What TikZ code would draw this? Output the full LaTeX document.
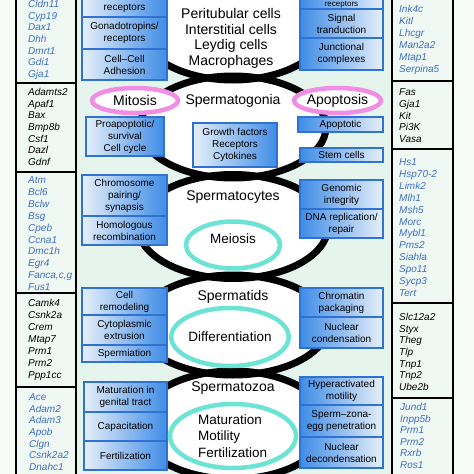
\documentclass[tikz,border=0pt]{standalone}
\usepackage{fontspec}
\setmainfont{Liberation Sans}
\definecolor{bg}{HTML}{E6F4EE}
\definecolor{outerbg}{HTML}{F6FBF8}
\definecolor{genefill}{HTML}{F0F8F4}
\definecolor{geneblue}{HTML}{3E6FC6}
\definecolor{boxline}{HTML}{2F72D4}
\definecolor{boxdark}{HTML}{3F8CE6}
\definecolor{boxmid}{HTML}{C3DAF5}
\definecolor{boxlight}{HTML}{E6EFFA}
\definecolor{pinkring}{HTML}{F08EE6}
\definecolor{tealring}{HTML}{6DE3D5}
\usetikzlibrary{shapes.geometric}
\tikzset{
  stagefill/.style={fill=white},
  stageline/.style={draw=black, line width=7pt},
  genecol/.style={draw=black, line width=1.4pt, fill=genefill},
  genesep/.style={draw=black, line width=1.4pt},
  geneb/.style={anchor=base west, inner sep=0pt, text=geneblue, font=\fontsize{10}{12}\selectfont\itshape},
  genek/.style={anchor=base west, inner sep=0pt, text=black, font=\fontsize{10}{12}\selectfont\itshape},
  boxbase/.style={draw=boxline, line width=1.3pt, rectangle, inner sep=0pt, align=center, font=\fontsize{10}{12}\selectfont},
  lbox/.style={boxbase, left color=boxlight, middle color=boxmid, right color=boxdark},
  rbox/.style={boxbase, left color=boxdark, middle color=boxmid, right color=boxlight},
  mbox/.style={boxbase, left color=boxlight, middle color=boxmid, right color=boxdark},
  boxtext/.style={inner sep=0pt, align=center, font=\fontsize{10}{12}\selectfont},
  stagelabel/.style={inner sep=0pt, font=\fontsize{14}{16}\selectfont},
  pinkell/.style={ellipse, draw=pinkring, line width=4.5pt, fill=white, inner sep=0pt, font=\fontsize{14}{16}\selectfont},
  tealell/.style={ellipse, draw=tealring, line width=4.5pt, fill=white, inner sep=0pt, align=left, font=\fontsize{13.5}{16.5}\selectfont},
  ringtext/.style={inner sep=0pt, align=left, font=\fontsize{13.5}{16.5}\selectfont},
}
\begin{document}
\begin{tikzpicture}[x=1pt,y=-1pt]
\useasboundingbox (0,0) rectangle (474,474);
\clip (0,0) rectangle (474,474);
\fill[outerbg] (0,0) rectangle (474,474);
\fill[bg] (16,0) rectangle (453,474);

% central chain of stages
\path[stagefill] (233,25) ellipse [x radius=95pt, y radius=55pt];
\path[stagefill] (233,127) ellipse [x radius=93pt, y radius=51pt];
\path[stagefill] (233,226.5) ellipse [x radius=95pt, y radius=52pt];
\path[stagefill] (233,325) ellipse [x radius=95pt, y radius=50pt];
\path[stagefill] (233,425) ellipse [x radius=95pt, y radius=54pt];
\draw[stageline] (233,25) ellipse [x radius=95pt, y radius=55pt];
\draw[stageline] (233,127) ellipse [x radius=93pt, y radius=51pt];
\draw[stageline] (233,226.5) ellipse [x radius=95pt, y radius=52pt];
\draw[stageline] (233,325) ellipse [x radius=95pt, y radius=50pt];
\draw[stageline] (233,425) ellipse [x radius=95pt, y radius=54pt];

% gene columns
\path[genecol] (16,-10) rectangle (76,484);
\path[genecol] (392,-10) rectangle (453,484);
\foreach \yy in {83,172,293,387} \draw[genesep] (16,\yy) -- (76,\yy);
\foreach \yy in {81,149,303,398} \draw[genesep] (392,\yy) -- (453,\yy);

% left genes
\foreach \g [count=\i from 0] in {Cldn11,Cyp19,Dax1,Dhh,Dmrt1,Gdi1,Gja1}
  \node[geneb] (la\i) at (28,7.5+\i*11.67) {\g};
\foreach \g [count=\i from 0] in {Adamts2,Apaf1,Bax,Bmp8b,Csf1,Dazl,Gdnf}
  \node[genek] (lb\i) at (28,95.5+\i*11.67) {\g};
\foreach \g [count=\i from 0] in {Atm,Bcl6,Bclw,Bsg,Cpeb,Ccna1,Dmc1h,Egr4,{Fanca,c,g},Fus1}
  \node[geneb] (lc\i) at (28,183.5+\i*11.9) {\g};
\foreach \g [count=\i from 0] in {Camk4,Csnk2a,Crem,Mtap7,Prm1,Prm2,Ppp1cc}
  \node[genek] (ld\i) at (28,306.5+\i*12) {\g};
\foreach \g [count=\i from 0] in {Ace,Adam2,Adam3,Apob,Clgn,Csnk2a2,Dnahc1}
  \node[geneb] (le\i) at (29,400.5+\i*11.67) {\g};

% right genes
\foreach \g [count=\i from 0] in {Ink4c,Kitl,Lhcgr,Man2a2,Mtap1,Serpina5}
  \node[geneb] (ra\i) at (399,12.5+\i*12) {\g};
\foreach \g [count=\i from 0] in {Fas,Gja1,Kit,Pi3K,Vasa}
  \node[genek] (rb\i) at (399,95.5+\i*11.75) {\g};
\foreach \g [count=\i from 0] in {Hs1,Hsp70-2,Limk2,Mlh1,Msh5,Morc,Mybl1,Pms2,Siahla,Spo11,Sycp3,Tert}
  \node[geneb] (rc\i) at (399,165.5+\i*11.9) {\g};
\foreach \g [count=\i from 0] in {Slc12a2,Styx,Theg,Tlp,Tnp1,Tnp2,Ube2b}
  \node[genek] (rd\i) at (399,320.5+\i*11.67) {\g};
\foreach \g [count=\i from 0] in {Jund1,Inpp5b,Prm1,Prm2,Rxrb,Ros1}
  \node[geneb] (re\i) at (400,410.5+\i*11.6) {\g};

% top texts
\node[stagelabel] (t1) at (231,13) {Peritubular cells};
\node[stagelabel] (t2) at (231,29) {Interstitial cells};
\node[stagelabel] (t3) at (231,45.5) {Leydig cells};
\node[stagelabel] (t4) at (231,62) {Macrophages};

% stage labels
\node[stagelabel] (sg) at (233,101) {Spermatogonia};
\node[stagelabel] (sc) at (233,197) {Spermatocytes};
\node[stagelabel] (st) at (233,297) {Spermatids};
\node[stagelabel] (sz) at (233,388) {Spermatozoa};

% left boxes
\node[lbox, minimum width=85pt, minimum height=32pt] (l0) at (124.5,1) {};
\node[boxtext] (l0t) at (124.5,8) {receptors};
\node[lbox, minimum width=85pt, minimum height=32pt] (l1) at (124.5,33) {Gonadotropins/\\receptors};
\node[lbox, minimum width=85pt, minimum height=31pt] (l2) at (124.5,64.5) {Cell--Cell\\Adhesion};
\node[lbox, minimum width=78pt, minimum height=39pt] (l3) at (125,136.5) {Proapoptotic/\\survival\\Cell cycle};
\node[lbox, minimum width=85pt, minimum height=41pt] (l4) at (124.5,195.5) {Chromosome\\pairing/\\synapsis};
\node[lbox, minimum width=85pt, minimum height=29pt] (l5) at (124.5,230.5) {Homologous\\recombination};
\node[lbox, minimum width=85pt, minimum height=27pt] (l6) at (124.5,301.5) {Cell\\remodeling};
\node[lbox, minimum width=85pt, minimum height=30pt] (l7) at (124.5,330) {Cytoplasmic\\extrusion};
\node[lbox, minimum width=85pt, minimum height=17pt] (l8) at (124.5,353.5) {Spermiation};
\node[lbox, minimum width=83pt, minimum height=30pt] (l9) at (125.5,397) {Maturation in\\genital tract};
\node[lbox, minimum width=83pt, minimum height=29pt] (l10) at (125.5,426.5) {Capacitation};
\node[lbox, minimum width=83pt, minimum height=29pt] (l11) at (125.5,455.5) {Fertilization};

% middle box
\node[mbox, minimum width=84pt, minimum height=44pt] (m1) at (235,145) {Growth factors\\Receptors\\Cytokines};

% right boxes
\node[rbox, minimum width=83pt, minimum height=29pt] (r0) at (341.5,-5.5) {};
\node[boxtext, font=\fontsize{8}{10}\selectfont, anchor=base] (r0t) at (341.5,6.6) {receptors};
\node[rbox, minimum width=83pt, minimum height=29pt] (r1) at (341.5,23.5) {Signal\\tranduction};
\node[rbox, minimum width=83pt, minimum height=32pt] (r2) at (341.5,54) {Junctional\\complexes};
\node[rbox, minimum width=85pt, minimum height=15pt] (r3) at (340.5,124.5) {Apoptotic};
\node[rbox, minimum width=83pt, minimum height=14pt] (r4) at (341.5,155) {Stem cells};
\node[rbox, minimum width=83pt, minimum height=29pt] (r5) at (341.5,194.5) {Genomic\\integrity};
\node[rbox, minimum width=83pt, minimum height=29pt] (r6) at (341.5,223.5) {DNA replication/\\repair};
\node[rbox, minimum width=83pt, minimum height=29pt] (r7) at (341.5,302.5) {Chromatin\\packaging};
\node[rbox, minimum width=83pt, minimum height=31pt] (r8) at (341.5,332.5) {Nuclear\\condensation};
\node[rbox, minimum width=83pt, minimum height=28pt] (r9) at (341.5,391) {Hyperactivated\\motility};
\node[rbox, minimum width=83pt, minimum height=32pt] (r10) at (341.5,421) {Sperm--zona-\\egg penetration};
\node[rbox, minimum width=83pt, minimum height=31pt] (r11) at (341.5,452.5) {Nuclear\\decondensation};

% coloured rings
\node[pinkell, minimum width=86pt, minimum height=25pt] (mit) at (135,100.5) {Mitosis};
\node[pinkell, minimum width=85pt, minimum height=25pt] (apo) at (337.5,100.5) {Apoptosis};
\node[tealell, minimum width=94pt, minimum height=47pt] (mei) at (233,245) {};
\node[ringtext] (meit) at (233,239) {Meiosis};
\node[tealell, minimum width=114pt, minimum height=58pt] (dif) at (230,337) {Differentiation};
\node[tealell, minimum width=126pt, minimum height=64pt] (mat) at (233,436) {};
\node[ringtext] (matt) at ([xshift=-35pt]mat.center) [anchor=west] {Maturation\\Motility\\Fertilization};
\end{tikzpicture}
\end{document}
